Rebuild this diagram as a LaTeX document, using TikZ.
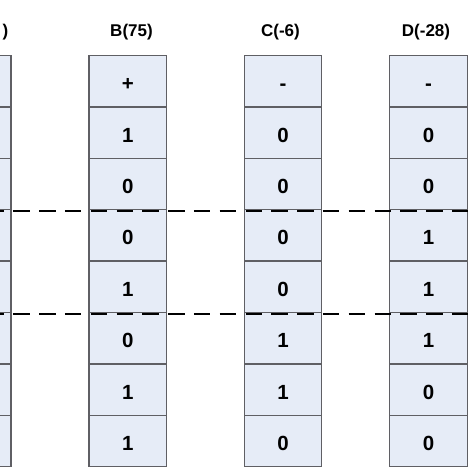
\documentclass[tikz,border=0pt]{standalone}
\usepackage{fontspec}
\setmainfont{Liberation Sans}
\definecolor{cellfill}{RGB}{230,236,247}
\definecolor{cellline}{RGB}{95,95,100}
\begin{document}
\begin{tikzpicture}[x=1pt,y=-1pt,
  cell/.style={draw=cellline,line width=1.3pt,fill=cellfill,minimum width=77.5pt,minimum height=51.4pt,inner sep=0pt,outer sep=0pt,text height=19pt,text depth=0pt,font=\fontsize{20.5}{24}\selectfont\bfseries},
  head/.style={inner sep=0pt,font=\fontsize{17}{20}\selectfont\bfseries},
  divider/.style={draw=black,line width=2.4pt,dash pattern=on 16.5pt off 9.3pt,dash phase=12.5pt}]
\useasboundingbox (0,0) rectangle (474,474);
\clip (0,0) rectangle (474,474);
% column A (mostly outside the picture)
\foreach \i in {1,...,8}{
  \node[cell] (a\i) at (-27.75,{55.5+51.4*(\i-0.5)}) {};
}
% column B
\foreach \v [count=\i] in {+,1,0,0,1,0,1,1}{
  \node[cell] (b\i) at (127.75,{55.5+51.4*(\i-0.5)}) {\v};
}
% column C
\foreach \v [count=\i] in {-,0,0,0,0,1,1,0}{
  \node[cell] (c\i) at (283,{55.5+51.4*(\i-0.5)}) {\v};
}
% column D
\foreach \v [count=\i] in {-,0,0,1,1,1,0,0}{
  \node[cell] (d\i) at (428.5,{55.5+51.4*(\i-0.5)}) {\v};
}
% headings
\node[head,anchor=base east] (ha) at (8.5,36.5) {)};
\node[head,anchor=base] (hb) at (131.5,36.5) {B(75)};
\node[head,anchor=base] (hc) at (280.5,36.5) {C(-6)};
\node[head,anchor=base] (hd) at (426,36.5) {D(-28)};
% dashed dividers
\coordinate (l1) at (0,210.9);
\coordinate (r1) at (474,210.9);
\coordinate (l2) at (0,313.7);
\coordinate (r2) at (474,313.7);
\draw[divider] (l1) -- (r1);
\draw[divider] (l2) -- (r2);
\end{tikzpicture}
\end{document}
